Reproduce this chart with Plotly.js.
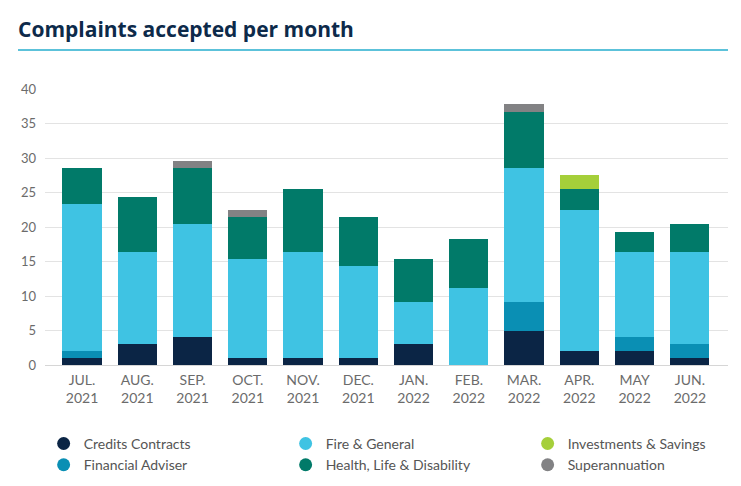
<!DOCTYPE html>
<html>
<head>
<meta charset="utf-8">
<script src="https://cdn.plot.ly/plotly-3.0.1.min.js"></script>
<style>
  html, body { margin: 0; padding: 0; background: #fff; }
  #chart { width: 741px; height: 486px; }
</style>
</head>
<body>
<div id="chart"></div>
<script>
// Months and series values
const months = ['JUL.<br>2021', 'AUG.<br>2021', 'SEP.<br>2021', 'OCT.<br>2021', 'NOV.<br>2021', 'DEC.<br>2021',
                'JAN.<br>2022', 'FEB.<br>2022', 'MAR.<br>2022', 'APR.<br>2022', 'MAY<br>2022', 'JUN.<br>2022'];

const creditsContracts = [1, 3, 4, 1, 1, 1, 3, 0, 5, 2, 2, 1];
const financialAdviser = [1, 0, 0, 0, 0, 0, 0, 0, 4.1, 0, 2, 2];
const fireGeneral      = [21.4, 13.4, 16.4, 14.3, 15.4, 13.3, 6.2, 11.2, 19.5, 20.4, 12.4, 13.4];
const healthLife       = [5.1, 8, 8.1, 6.1, 9.1, 7.1, 6.1, 7.1, 8.1, 3.1, 2.9, 4];
const investments      = [0, 0, 0, 0, 0, 0, 0, 0, 0, 2, 0, 0];
const superannuation   = [0, 0, 1.1, 1, 0, 0, 0, 0, 1.1, 0, 0, 0];

const series = [
    { name: 'Credits Contracts', y: creditsContracts, color: '#0b2545', rank: 1 },
    { name: 'Financial Adviser', y: financialAdviser, color: '#0a8fb4', rank: 4 },
    { name: 'Fire & General', y: fireGeneral, color: '#3fc3e3', rank: 2 },
    { name: 'Health, Life & Disability', y: healthLife, color: '#017a69', rank: 5 },
    { name: 'Investments & Savings', y: investments, color: '#a5cf3a', rank: 3 },
    { name: 'Superannuation', y: superannuation, color: '#828284', rank: 6 }
];

const traces = [];
series.forEach(s => {
    traces.push({
        type: 'bar',
        x: months,
        y: s.y,
        name: s.name,
        showlegend: false,
        marker: { color: s.color, line: { width: 0 } },
        hoverinfo: 'x+y+name'
    });
    // legend entry with a round marker
    traces.push({
        type: 'scatter',
        mode: 'markers',
        x: [null],
        y: [null],
        name: s.name,
        legendrank: s.rank,
        marker: { color: s.color, size: 13, symbol: 'circle' }
    });
});

const layout = {
    width: 741,
    height: 486,
    barmode: 'stack',
    bargap: 0.29,
    margin: { l: 45, r: 13, t: 89, b: 121, autoexpand: false },
    paper_bgcolor: '#ffffff',
    plot_bgcolor: '#ffffff',
    font: { family: 'Lato, sans-serif', color: '#6b6b6b', size: 13 },
    title: {
        text: '<b>Complaints accepted per month</b>',
        font: { family: '"Open Sans", sans-serif', size: 21, color: '#0d2a4a' },
        x: 18 / 741,
        xanchor: 'left',
        xref: 'container',
        y: 1 - 30 / 486,
        yanchor: 'middle',
        yref: 'container'
    },
    xaxis: {
        type: 'category',
        range: [-0.67, 11.69],
        showgrid: false,
        zeroline: false,
        showline: false,
        ticks: '',
        ticklabelstandoff: 5,
        tickfont: { size: 14, color: '#6b6b6b' }
    },
    yaxis: {
        range: [0, 40],
        dtick: 5,
        showgrid: true,
        gridcolor: '#e3e3e3',
        gridwidth: 1,
        zeroline: true,
        zerolinecolor: '#d6d6d6',
        showline: false,
        ticks: '',
        ticklabelstandoff: 8,
        tickfont: { size: 13, color: '#6b6b6b' }
    },
    showlegend: true,
    legend: {
        orientation: 'h',
        x: -0.002,
        xanchor: 'left',
        y: -0.228,
        yanchor: 'top',
        entrywidth: 197,
        entrywidthmode: 'pixels',
        traceorder: 'normal',
        font: { size: 14, color: '#555555' },
        tracegroupgap: 0
    },
    shapes: [{
        type: 'line',
        xref: 'paper', yref: 'paper',
        x0: -27 / 683, x1: 1,
        y0: 1 + 39 / 276, y1: 1 + 39 / 276,
        line: { color: '#5cc2da', width: 2 }
    }]
};

Plotly.newPlot('chart', traces, layout, { displayModeBar: false, staticPlot: true });
</script>
</body>
</html>
